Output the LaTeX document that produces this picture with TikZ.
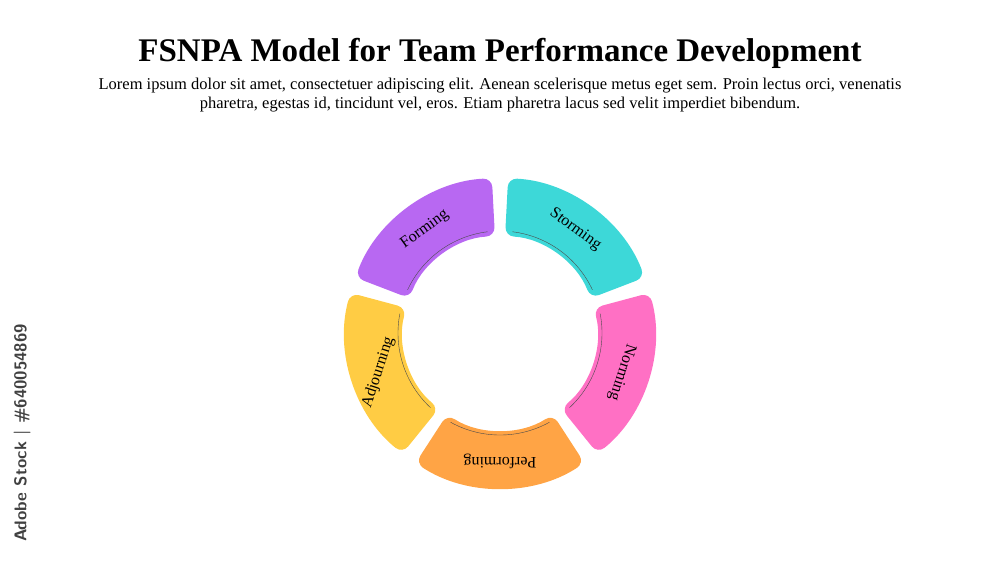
\documentclass[tikz,border=0pt]{standalone}
\usepackage{fontspec}
\setmainfont{Liberation Serif}
\begin{document}
\begin{tikzpicture}[x=1pt,y=1pt,
  seglabel/.style={font=\fontsize{16}{16}\selectfont,text=black},
  thinline/.style={draw=black!70,line width=0.4pt}]
\useasboundingbox (0,0) rectangle (1000,-563);
\node (title) at (500,-53) {\fontsize{33}{36}\selectfont\bfseries FSNPA Model for Team Performance Development};
\node[align=center] (body) at (500,-95) {\fontsize{16.5}{20}\selectfont Lorem ipsum dolor sit amet, consectetuer adipiscing elit. Aenean scelerisque metus eget sem. Proin lectus orci, venenatis\\[3pt]\fontsize{16.5}{20}\selectfont pharetra, egestas id, tincidunt vel, eros. Etiam pharetra lacus sed velit imperdiet bibendum.};
\coordinate (c) at (500,-333);
\def\R{155}\def\r{97}
\foreach \mid/\col/\txt/\rot in {126/B868F2/Forming/36, 54/3DD8D8/Storming/-36, -18/FF70C4/Norming/-108, -90/FFA445/Performing/180, 198/FFCC44/Adjourning/72}{
  \definecolor{segc}{HTML}{\col}
  \pgfmathsetmacro\aa{\mid-33}\pgfmathsetmacro\ab{\mid+33}
  \fill[segc,rounded corners=9pt] ([shift={(\aa:\R)}]c) arc (\aa:\ab:\R) -- ([shift={(\ab:\r)}]c) arc (\ab:\aa:\r) -- cycle;
  \draw[thinline] ([shift={(\aa+4:\r+5)}]c) arc (\aa+4:\ab-4:\r+5);
  \node[seglabel,rotate=\rot] (l\txt) at ([shift={(\mid:128)}]c) {\txt};
}
\node[rotate=90,text=black!75] (stock) at (22,-433) {\fontsize{17}{17}\selectfont\sffamily\bfseries Adobe Stock | \#640054869};
\end{tikzpicture}
\end{document}
